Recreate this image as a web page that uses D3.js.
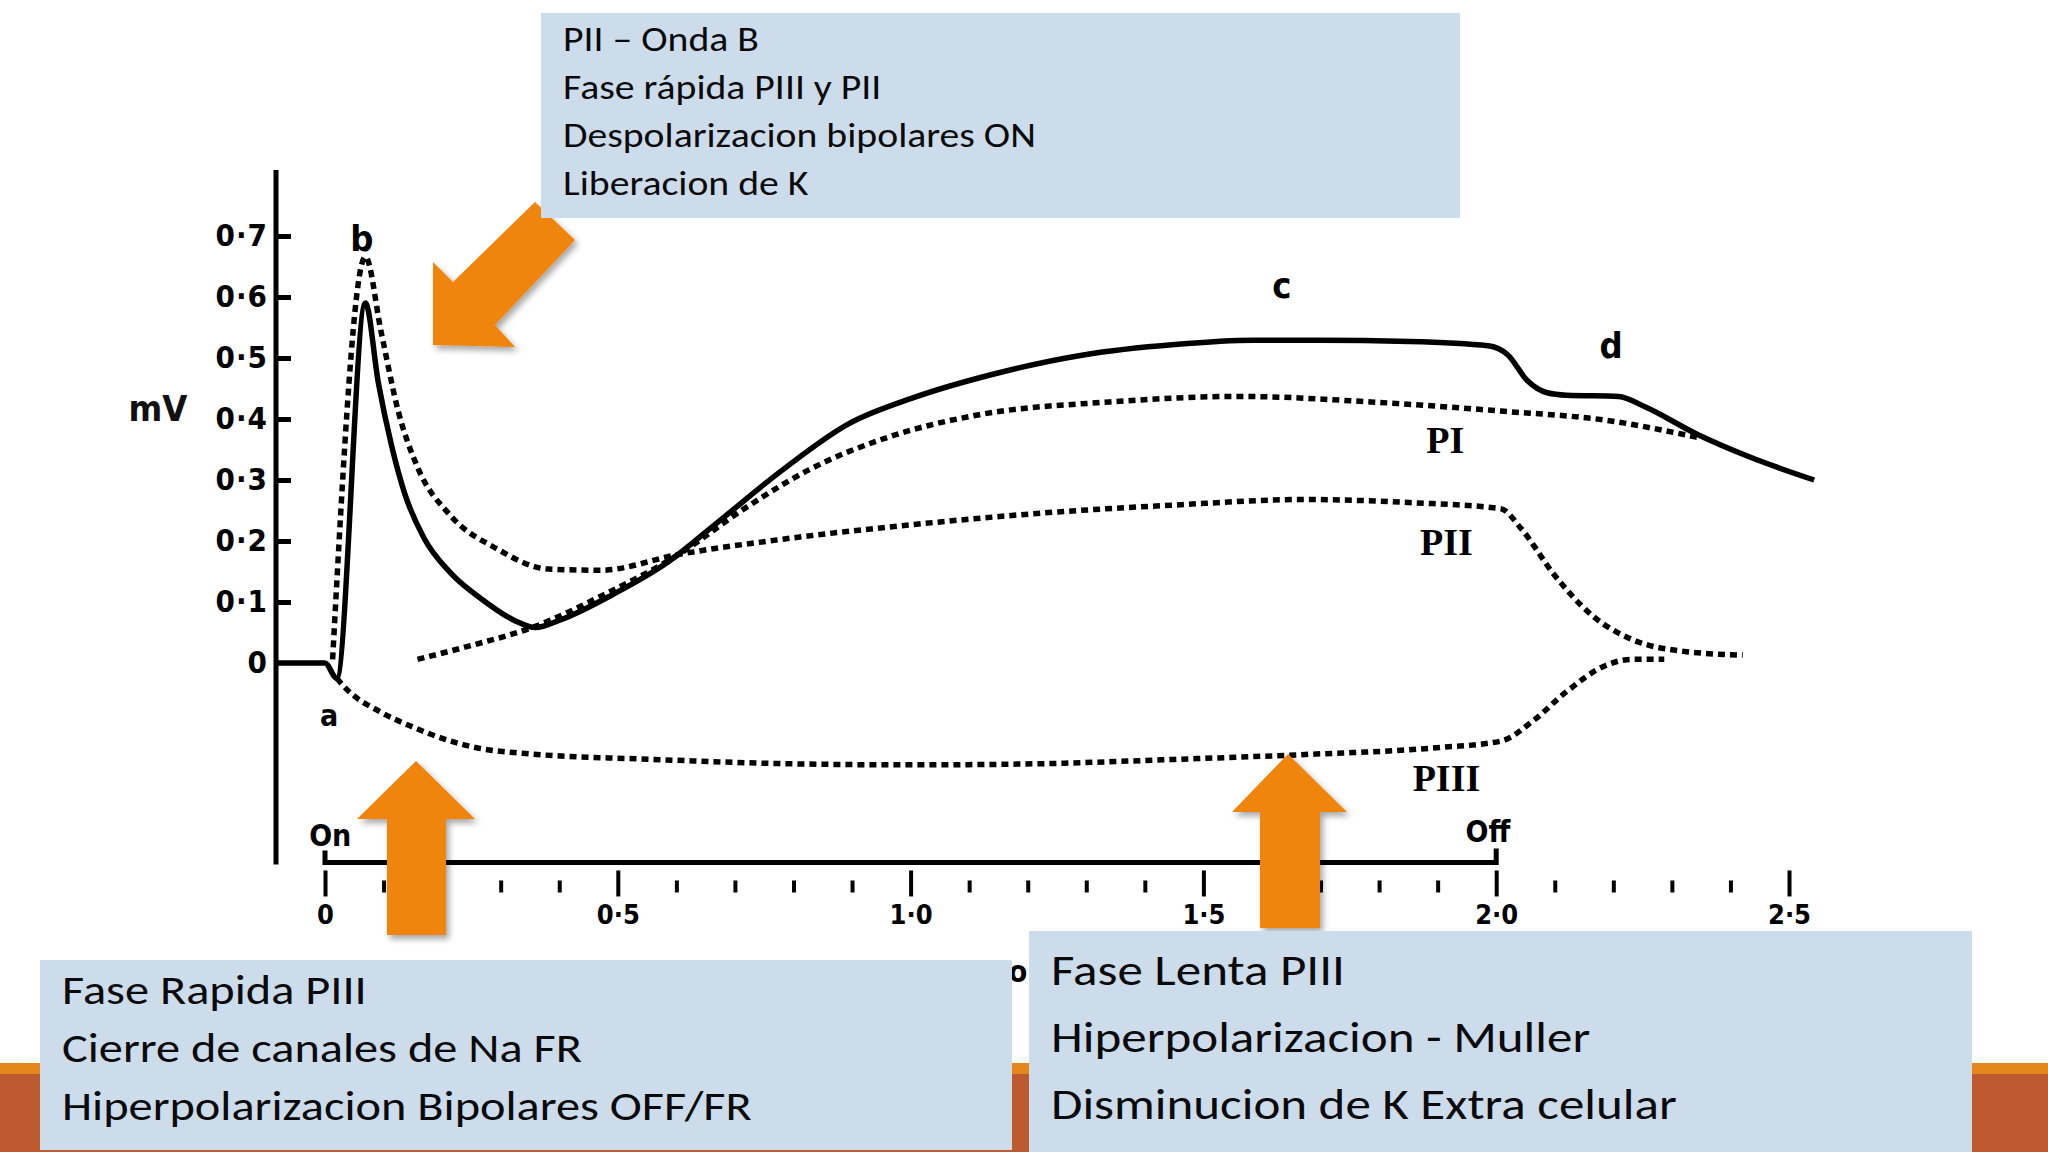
<!DOCTYPE html>
<html>
<head>
<meta charset="utf-8">
<script src="https://cdn.jsdelivr.net/npm/d3@7"></script>
<style>
  html, body { margin: 0; padding: 0; background: #ffffff; }
  svg { display: block; }
</style>
</head>
<body>
<div id="slide"></div>
<script>
// ERG components: total response (solid) and PI, PII, PIII (dotted), time in s, amplitude in mV
var ergT = [-0.085, 0.0, 0.02, 0.069, 0.091, 0.114, 0.136, 0.169, 0.214, 0.270, 0.325, 0.359, 0.403, 0.493, 0.582, 0.671, 0.782, 0.894, 1.005, 1.139, 1.295, 1.451, 1.585, 1.696, 1.852, 1.986, 2.020, 2.053, 2.087, 2.120, 2.209, 2.254, 2.343, 2.432, 2.543];
var ergV = [0, 0, -0.025, 0.59, 0.460, 0.355, 0.278, 0.205, 0.148, 0.103, 0.069, 0.058, 0.071, 0.113, 0.163, 0.231, 0.317, 0.392, 0.435, 0.473, 0.505, 0.522, 0.529, 0.529, 0.527, 0.520, 0.505, 0.463, 0.443, 0.439, 0.437, 0.420, 0.375, 0.338, 0.300];

var p1T = [0.158, 0.247, 0.359, 0.470, 0.604, 0.716, 0.827, 0.961, 1.117, 1.340, 1.563, 1.786, 2.008, 2.187, 2.343];
var p1V = [0.006, 0.028, 0.060, 0.109, 0.178, 0.253, 0.317, 0.370, 0.407, 0.428, 0.437, 0.428, 0.413, 0.398, 0.370];

var p2T = [0.013, 0.069, 0.096, 0.125, 0.158, 0.214, 0.292, 0.381, 0.470, 0.604, 0.782, 1.005, 1.228, 1.451, 1.674, 1.852, 2.008, 2.042, 2.098, 2.165, 2.231, 2.321, 2.421];
var p2V = [0.006, 0.666, 0.542, 0.413, 0.321, 0.242, 0.188, 0.154, 0.152, 0.178, 0.203, 0.227, 0.246, 0.259, 0.268, 0.263, 0.253, 0.221, 0.146, 0.077, 0.039, 0.019, 0.013];

var p3T = [0.020, 0.038, 0.094, 0.150, 0.208, 0.259, 0.337, 0.560, 0.782, 1.005, 1.228, 1.451, 1.674, 1.897, 2.008, 2.064, 2.120, 2.187, 2.231, 2.287];
var p3V = [-0.025, -0.044, -0.080, -0.105, -0.126, -0.139, -0.148, -0.158, -0.165, -0.167, -0.165, -0.158, -0.150, -0.139, -0.128, -0.094, -0.047, -0.004, 0.006, 0.006];

var yTicks = [0, 0.1, 0.2, 0.3, 0.4, 0.5, 0.6, 0.7];
var yTickLabels = ["0", "0·1", "0·2", "0·3", "0·4", "0·5", "0·6", "0·7"];
var xMajorTicks = [0, 0.5, 1.0, 1.5, 2.0, 2.5];
var xTickLabels = ["0", "0·5", "1·0", "1·5", "2·0", "2·5"];
var xMinorTicks = [0.1, 0.2, 0.3, 0.4, 0.6, 0.7, 0.8, 0.9, 1.1, 1.2, 1.3, 1.4, 1.6, 1.7, 1.8, 1.9, 2.1, 2.2, 2.3, 2.4];

// wave / component labels: [text, t, v]
var waveLabels = [["b", 0.063, 0.675], ["c", 1.634, 0.598], ["d", 2.196, 0.500], ["a", 0.007, -0.103]];
var compLabels = [["PI", 1.913, 0.344], ["PII", 1.915, 0.177], ["PIII", 1.915, -0.210]];
var stimLabels = [["On", 0.009, -0.300], ["Off", 1.986, -0.293]];

var topBoxLines = ["PII – Onda B", "Fase rápida PIII y PII", "Despolarizacion bipolares ON", "Liberacion de K"];
var leftBoxLines = ["Fase Rapida PIII", "Cierre de canales de Na FR", "Hiperpolarizacion Bipolares OFF/FR"];
var rightBoxLines = ["Fase Lenta PIII", "Hiperpolarizacion - Muller", "Disminucion de K Extra celular"];

var W = 2048, H = 1152;
var svg = d3.select("#slide").append("svg").attr("width", W).attr("height", H);

var defs = svg.append("defs");
var shadow = defs.append("filter").attr("id", "shadow").attr("x", "-20%").attr("y", "-20%").attr("width", "150%").attr("height", "150%");
shadow.append("feDropShadow").attr("dx", 3).attr("dy", 4).attr("stdDeviation", 3).attr("flood-color", "#000").attr("flood-opacity", 0.35);

/** footer band */
svg.append("rect").attr("x", 0).attr("y", 1063).attr("width", W).attr("height", 12).attr("fill", "#e5871b");
svg.append("rect").attr("x", 0).attr("y", 1074).attr("width", W).attr("height", H - 1074).attr("fill", "#bd5a2f");

/** scales */
var x = d3.scaleLinear().domain([0, 2.5]).range([325, 1789]);
var y = d3.scaleLinear().domain([0, 0.7]).range([663, 236]);
var axisFont = "'DejaVu Sans Condensed', 'Liberation Sans', sans-serif";

var chart = svg.append("g");

/** y axis */
var yAxisX = 276;
var timeAxisV = -0.327;
chart.append("line")
  .attr("x1", yAxisX).attr("x2", yAxisX)
  .attr("y1", 170).attr("y2", y(timeAxisV) + 2)
  .attr("stroke", "#000").attr("stroke-width", 5);

var yAxis = chart.append("g")
  .attr("transform", "translate(" + yAxisX + ",0)")
  .call(d3.axisLeft(y).tickValues(yTicks).tickSize(-15).tickPadding(8)
    .tickFormat(function(d, i){ return yTickLabels[i]; }));
yAxis.select(".domain").remove();
yAxis.selectAll(".tick line").attr("stroke", "#000").attr("stroke-width", 5)
  .filter(function(d){ return d === 0; }).remove();
yAxis.selectAll(".tick text")
  .attr("fill", "#000").attr("font-family", axisFont).attr("font-weight", "bold")
  .attr("font-size", 31).attr("letter-spacing", 1);

chart.append("text").text("mV")
  .attr("x", 158).attr("y", 421).attr("text-anchor", "middle")
  .attr("font-family", axisFont).attr("font-weight", "bold").attr("font-size", 36).attr("fill", "#111");

/** time axis (stimulus bar from On to Off) */
var ty = y(timeAxisV);
chart.append("path")
  .attr("d", "M" + x(0) + "," + (ty - 12) + "V" + ty + "H" + x(2.0) + "V" + (ty - 14))
  .attr("fill", "none").attr("stroke", "#000").attr("stroke-width", 5);

var major = chart.append("g")
  .attr("transform", "translate(0," + (ty + 8) + ")")
  .call(d3.axisBottom(x).tickValues(xMajorTicks).tickSize(26).tickPadding(8)
    .tickFormat(function(d, i){ return xTickLabels[i]; }));
major.select(".domain").remove();
major.selectAll(".tick line").attr("stroke", "#000").attr("stroke-width", 4);
major.selectAll(".tick text")
  .attr("fill", "#000").attr("font-family", axisFont).attr("font-weight", "bold").attr("font-size", 27);

var minor = chart.append("g")
  .attr("transform", "translate(0," + (ty + 18) + ")")
  .call(d3.axisBottom(x).tickValues(xMinorTicks).tickSize(12).tickFormat(""));
minor.select(".domain").remove();
minor.selectAll(".tick line").attr("stroke", "#000").attr("stroke-width", 4);

// axis title, mostly hidden behind the text boxes as in the slide
chart.append("text").text("Seconds")
  .attr("x", 955).attr("y", 982)
  .attr("font-family", axisFont).attr("font-weight", "bold").attr("font-size", 30).attr("fill", "#000");

/** curves */
function toPoints(ts, vs){ return ts.map(function(t, i){ return [t, vs[i]]; }); }
var line = d3.line()
  .x(function(d){ return x(d[0]); })
  .y(function(d){ return y(d[1]); })
  .curve(d3.curveMonotoneX);

var dotted = [toPoints(p1T, p1V), toPoints(p2T, p2V), toPoints(p3T, p3V)];
chart.selectAll("path.comp").data(dotted).enter().append("path")
  .attr("class", "comp")
  .attr("d", line)
  .attr("fill", "none").attr("stroke", "#000").attr("stroke-width", 5.5)
  .attr("stroke-dasharray", "7 5");

chart.append("path")
  .datum(toPoints(ergT, ergV))
  .attr("d", line)
  .attr("fill", "none").attr("stroke", "#000").attr("stroke-width", 5.5)
  .attr("stroke-linejoin", "round");

/** labels */
chart.selectAll("text.wave").data(waveLabels).enter().append("text")
  .attr("class", "wave")
  .text(function(d){ return d[0]; })
  .attr("x", function(d){ return x(d[1]); }).attr("y", function(d){ return y(d[2]); })
  .attr("text-anchor", "middle")
  .attr("font-family", axisFont).attr("font-weight", "bold")
  .attr("font-size", function(d){ return d[0] === "a" ? 30 : 36; });

chart.selectAll("text.comp").data(compLabels).enter().append("text")
  .attr("class", "comp")
  .text(function(d){ return d[0]; })
  .attr("x", function(d){ return x(d[1]); }).attr("y", function(d){ return y(d[2]); })
  .attr("text-anchor", "middle")
  .attr("font-family", "'Liberation Serif', 'DejaVu Serif', serif").attr("font-weight", "bold")
  .attr("font-size", 38);

chart.selectAll("text.stim").data(stimLabels).enter().append("text")
  .attr("class", "stim")
  .text(function(d){ return d[0]; })
  .attr("x", function(d){ return x(d[1]); }).attr("y", function(d){ return y(d[2]); })
  .attr("text-anchor", "middle")
  .attr("font-family", axisFont).attr("font-weight", "bold").attr("font-size", 30);

/** orange arrows */
var arrows = [
  [[433,345],[433,262],[453,282],[535,202],[575,240],[495,325],[515,347]],
  [[416,761],[475,819],[446,819],[446,935],[387,935],[387,819],[357,819]],
  [[1288,754],[1347,812],[1320,812],[1320,928],[1260,928],[1260,812],[1232,812]]
];
svg.selectAll("polygon.arrow").data(arrows).enter().append("polygon")
  .attr("class", "arrow")
  .attr("points", function(d){ return d.map(function(p){ return p.join(","); }).join(" "); })
  .attr("fill", "#ef850f")
  .attr("filter", "url(#shadow)");

/** text boxes */
function textBox(bx, by, bw, bh, lines, fontSize, firstBase, gap, targetWidth)
{
  var g = svg.append("g");
  g.append("rect").attr("x", bx).attr("y", by).attr("width", bw).attr("height", bh).attr("fill", "#cddcea");
  var tx = bx + 22;
  var tg = g.append("g");
  var texts = tg.selectAll("text").data(lines).enter().append("text")
    .text(function(d){ return d; })
    .attr("x", 0)
    .attr("y", function(d, i){ return firstBase + i * gap; })
    .attr("font-family", "Carlito, Lato, 'Open Sans', sans-serif")
    .attr("font-size", fontSize).attr("fill", "#0a0a0a");
  var widest = 0;
  texts.each(function(){ widest = Math.max(widest, this.getComputedTextLength()); });
  var sx = widest > 0 ? targetWidth / widest : 1;
  tg.attr("transform", "translate(" + tx + ",0) scale(" + sx + ",1)");
}

textBox(541, 13, 919, 205, topBoxLines, 35, 51, 48, 473);
textBox(40, 960, 972, 190, leftBoxLines, 42, 1004, 58, 690);
textBox(1029, 931, 943, 221, rightBoxLines, 44, 985, 67, 626);
</script>
</body>
</html>
